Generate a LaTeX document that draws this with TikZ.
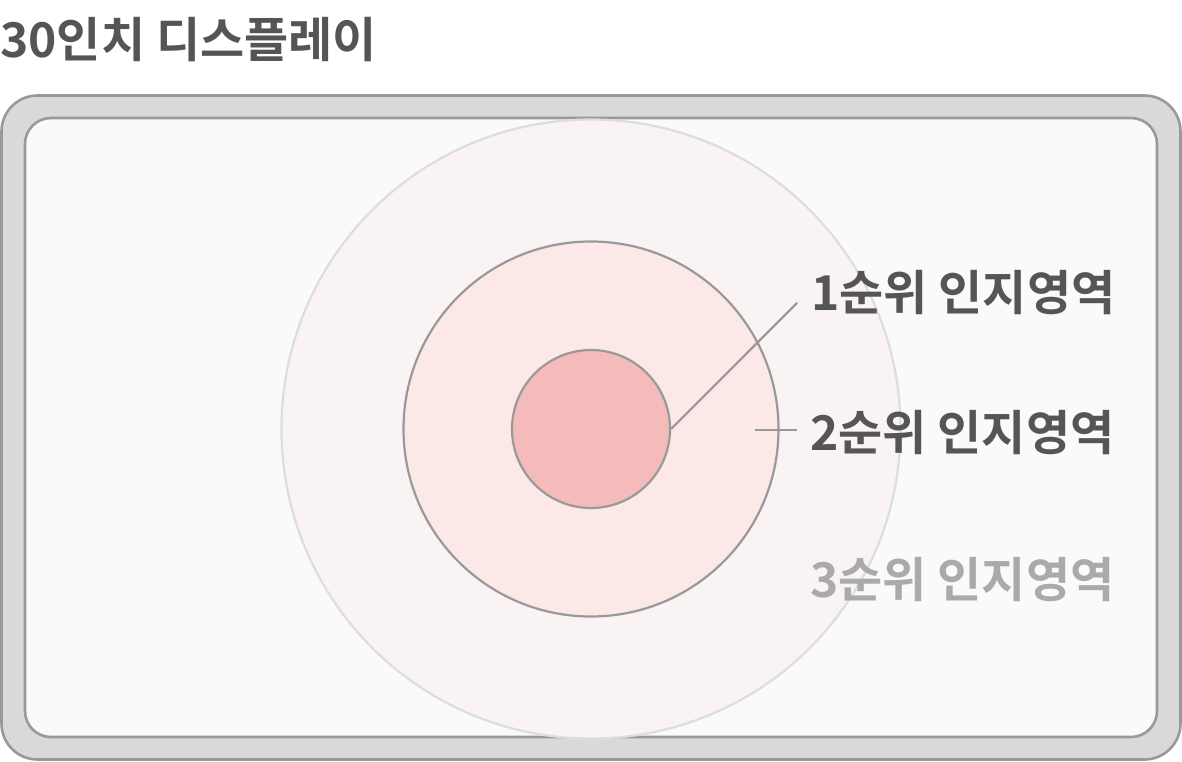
\documentclass[tikz,border=0pt]{standalone}
\usepackage{fontspec}
\newfontfamily\kr{Noto Sans CJK KR Bold}
\definecolor{txt}{HTML}{555555}
\definecolor{txtlight}{HTML}{AAAAAA}
\definecolor{edge}{HTML}{999999}
\definecolor{frame}{HTML}{D9D9D9}
\definecolor{screen}{HTML}{FAFAFA}
\definecolor{ring3}{HTML}{FAF3F3}
\definecolor{ring3edge}{HTML}{DDDDDD}
\definecolor{ring2}{HTML}{FDE8E8}
\definecolor{ring1}{HTML}{F5BBBB}
\begin{document}
\begin{tikzpicture}[x=1pt,y=-1pt,
  lbl/.style={font=\kr\fontsize{48}{55}\selectfont, text=txt, anchor=base west, inner sep=0pt},
  leader/.style={draw=edge, line width=2.2pt},
  zone/.style={circle, inner sep=0pt, line width=2.2pt}]
\useasboundingbox (0,0) rectangle (1182,762);
\node[font=\kr\fontsize{48}{55}\selectfont, text=txt, anchor=base west, inner sep=0pt] (title) at (0,58) {30인치 디스플레이};
\draw[edge, fill=frame, line width=2.6pt, rounded corners=36pt] (1.5,95.5) rectangle (1180.5,759.5);
\draw[edge, fill=screen, line width=2.6pt, rounded corners=26pt] (25,118) rectangle (1157,737);
\node[zone, draw=ring3edge, fill=ring3, minimum size=619pt] (c3) at (591,429) {};
\node[zone, draw=edge, fill=ring2, minimum size=375pt] (c2) at (591,429) {};
\node[zone, draw=edge, fill=ring1, minimum size=158pt] (c1) at (591,429) {};
\node[lbl] (l1) at (811,310) {1순위 인지영역};
\node[lbl] (l2) at (810,450) {2순위 인지영역};
\node[lbl, text=txtlight] (l3) at (810,597) {3순위 인지영역};
\coordinate (e1) at (797,303);
\coordinate (s2) at (755,430);
\coordinate (e2) at (797,430);
\draw[leader] (c1.east) -- (e1);
\draw[leader] (s2) -- (e2);
\end{tikzpicture}
\end{document}
